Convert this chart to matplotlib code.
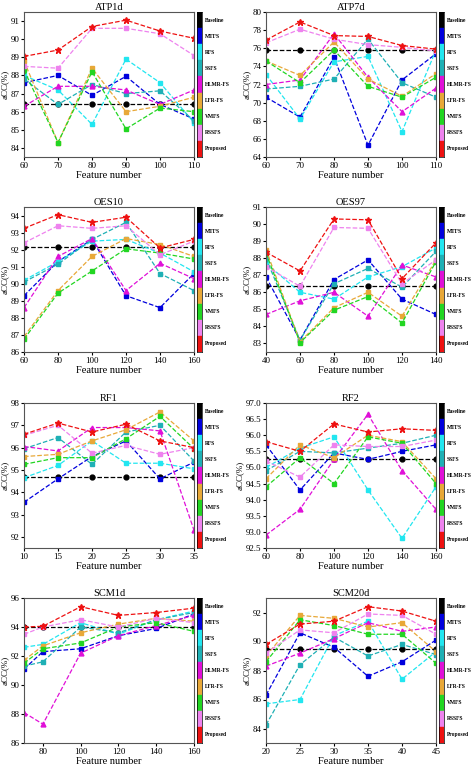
import numpy as np
import matplotlib
matplotlib.use('Agg')
import matplotlib.pyplot as plt

plt.rcParams['font.family'] = 'Liberation Serif'

methods = ['Baseline', 'MTFS', 'RFS', 'SSFS', 'HLMR-FS', 'LFR-FS', 'VMFS', 'RSSFS', 'Proposed']
colors = ['black', '#0000dd', '#22e6f0', '#1fb0b5', '#e010d8', '#e8a838', '#22d622', '#ee82ee', '#ee1111']
markers = ['o', 's', 's', 's', '^', 's', 's', 's', '*']

titles = ['ATP1d', 'ATP7d', 'OES10', 'OES97', 'RF1', 'RF2', 'SCM1d', 'SCM20d']

x_vals = {
    'ATP1d': [60, 70, 80, 90, 100, 110],
    'ATP7d': [60, 70, 80, 90, 100, 110],
    'OES10': [60, 80, 100, 120, 140, 160],
    'OES97': [40, 60, 80, 100, 120, 140],
    'RF1': [10, 15, 20, 25, 30, 35],
    'RF2': [60, 80, 100, 120, 140, 160],
    'SCM1d': [70, 80, 100, 120, 140, 160],
    'SCM20d': [20, 25, 30, 35, 40, 45],
}

acc_atp1d = [
    [86.45] * 6,
    [87.6, 88.0, 86.9, 87.95, 86.4, 85.6],
    [88.0, 87.2, 85.3, 88.9, 87.6, 85.4],
    [87.8, 86.4, 87.5, 87.0, 87.15, 85.5],
    [86.3, 87.4, 87.4, 87.2, 86.4, 87.2],
    [88.8, 84.3, 88.4, 86.0, 86.3, 86.8],
    [88.3, 84.3, 88.2, 85.05, 86.2, 86.0],
    [88.5, 88.4, 90.6, 90.6, 90.3, 89.1],
    [89.05, 89.4, 90.7, 91.05, 90.45, 90.05],
]
acc_atp7d = [
    [75.8] * 6,
    [70.6, 68.4, 75.0, 65.3, 72.5, 75.4],
    [73.1, 68.2, 74.5, 75.1, 66.8, 75.8],
    [71.5, 71.8, 72.6, 77.0, 72.2, 70.6],
    [72.0, 72.5, 77.6, 72.8, 69.0, 71.6],
    [74.6, 73.0, 76.7, 72.6, 70.7, 73.2],
    [74.6, 72.2, 75.8, 71.8, 70.6, 72.8],
    [76.6, 78.1, 77.0, 76.4, 76.1, 75.7],
    [76.9, 78.9, 77.4, 77.3, 76.3, 75.9],
]
acc_oes10 = [
    [92.15] * 6,
    [89.3, 91.3, 92.6, 89.3, 88.6, 90.6],
    [90.2, 91.3, 92.5, 92.6, 91.8, 90.7],
    [90.1, 91.15, 92.6, 93.6, 90.6, 89.6],
    [88.6, 91.6, 92.65, 89.6, 91.2, 90.3],
    [86.9, 89.6, 91.6, 92.65, 92.3, 91.6],
    [86.75, 89.45, 90.75, 92.05, 91.8, 91.45],
    [92.4, 93.4, 93.25, 93.4, 91.7, 92.5],
    [93.25, 94.05, 93.6, 93.9, 92.1, 92.6],
]
acc_oes97 = [
    [86.35] * 6,
    [86.9, 83.2, 86.75, 87.9, 85.6, 84.7],
    [87.7, 86.0, 85.6, 86.9, 87.5, 88.6],
    [88.0, 83.2, 86.5, 87.4, 86.3, 88.4],
    [84.7, 85.5, 86.0, 84.6, 87.6, 86.9],
    [88.5, 83.1, 85.1, 86.0, 84.6, 87.9],
    [88.3, 83.05, 84.95, 85.75, 84.2, 87.8],
    [87.5, 86.35, 89.8, 89.75, 86.5, 87.9],
    [88.35, 87.25, 90.3, 90.25, 86.8, 88.9],
]
acc_rf1 = [
    [94.7] * 6,
    [93.55, 94.6, 95.6, 96.3, 94.6, 95.35],
    [94.65, 95.2, 96.3, 95.3, 95.3, 95.05],
    [95.95, 96.45, 95.25, 96.7, 97.0, 95.4],
    [96.05, 95.85, 96.9, 96.9, 96.75, 92.3],
    [95.6, 95.7, 96.3, 96.8, 97.6, 96.3],
    [95.25, 95.55, 95.55, 96.4, 97.4, 95.95],
    [96.55, 97.0, 95.75, 96.1, 95.7, 96.0],
    [96.6, 97.1, 96.7, 97.05, 96.3, 96.0],
]
acc_rf2 = [
    [95.25] * 6,
    [95.7, 94.3, 95.45, 95.25, 95.5, 95.7],
    [95.0, 95.6, 95.95, 94.3, 92.8, 94.4],
    [94.9, 95.5, 95.45, 95.6, 95.75, 96.0],
    [92.9, 93.7, 95.25, 96.65, 94.9, 93.7],
    [94.65, 95.7, 95.3, 96.0, 95.8, 94.65],
    [94.4, 95.3, 94.5, 95.95, 95.75, 94.5],
    [95.2, 94.7, 95.7, 95.65, 95.65, 95.85],
    [95.8, 95.5, 96.35, 96.1, 96.2, 96.15],
]
acc_scm1d = [
    [94.0] * 6,
    [91.1, 92.3, 92.5, 93.4, 93.9, 94.9],
    [92.6, 92.8, 94.3, 93.5, 94.5, 95.1],
    [91.3, 91.6, 94.0, 93.6, 94.5, 95.0],
    [88.1, 87.3, 92.2, 93.4, 94.1, 94.8],
    [91.7, 92.7, 93.6, 94.2, 94.6, 94.4],
    [91.5, 92.5, 92.9, 94.0, 94.3, 93.7],
    [93.5, 94.0, 94.5, 94.0, 94.6, 94.3],
    [94.0, 94.05, 95.4, 94.8, 95.0, 95.3],
]
acc_scm20d = [
    [89.5] * 6,
    [86.3, 90.6, 89.6, 87.6, 88.6, 90.1],
    [85.7, 86.0, 90.4, 91.4, 87.4, 89.3],
    [84.25, 88.4, 90.3, 89.0, 89.8, 89.1],
    [88.3, 89.2, 90.2, 91.3, 90.7, 91.0],
    [89.0, 91.8, 91.6, 91.0, 91.3, 89.3],
    [88.6, 91.5, 91.1, 90.5, 90.5, 88.5],
    [89.2, 90.8, 90.6, 91.9, 91.8, 90.5],
    [89.8, 91.2, 91.4, 92.4, 92.1, 91.4],
]
acc = {'ATP1d': acc_atp1d, 'ATP7d': acc_atp7d, 'OES10': acc_oes10, 'OES97': acc_oes97,
       'RF1': acc_rf1, 'RF2': acc_rf2, 'SCM1d': acc_scm1d, 'SCM20d': acc_scm20d}

ylims = {'ATP1d': (83.5, 91.5), 'ATP7d': (64, 80), 'OES10': (86, 94.5), 'OES97': (82.5, 91),
         'RF1': (91.5, 98), 'RF2': (92.5, 97), 'SCM1d': (86, 96), 'SCM20d': (83, 93)}
yticks = {'ATP1d': np.arange(84, 92, 1), 'ATP7d': np.arange(64, 81, 2), 'OES10': np.arange(86, 95, 1),
          'OES97': np.arange(83, 92, 1), 'RF1': np.arange(92, 99, 1), 'RF2': np.arange(92.5, 97.1, 0.5),
          'SCM1d': np.arange(86, 97, 2), 'SCM20d': np.arange(84, 93, 2)}

W, H = 474, 769
fig = plt.figure(figsize=(W / 100, H / 100), dpi=100)

lefts = [24, 266]
tops = [12, 207, 403, 598]
aw, ah = 170, 145

for k, name in enumerate(titles):
    r, c = divmod(k, 2)
    l, t = lefts[c], tops[r]
    ax = fig.add_axes([l / W, 1 - (t + ah) / H, aw / W, ah / H])
    xs = x_vals[name]
    for i, m in enumerate(methods):
        ax.plot(xs, acc[name][i], '--', color=colors[i], marker=markers[i],
                markersize=3.5 if markers[i] != '*' else 4.5, linewidth=0.9)
    ax.set_xlim(xs[0], xs[-1])
    ax.set_ylim(*ylims[name])
    ax.set_yticks(yticks[name])
    if name == 'RF2':
        ax.set_yticklabels(['%.1f' % v for v in yticks[name]])
    if name == 'SCM1d':
        ax.set_xticks([80, 100, 120, 140, 160])
    else:
        ax.set_xticks(xs)
    ax.tick_params(labelsize=6.5, length=2, pad=1.5)
    ax.set_title(name, fontsize=7.5, pad=1)
    ax.set_xlabel('Feature number', fontsize=7.5, labelpad=1)
    ax.set_ylabel('aCC(%)', fontsize=6.5, labelpad=1)
    for s in ax.spines.values():
        s.set_color('#555555')

    # colour strip legend
    lg = fig.add_axes([(l + aw + 3) / W, 1 - (t + ah) / H, 5 / W, ah / H])
    n = len(methods)
    for i, m in enumerate(methods):
        lg.add_patch(plt.Rectangle((0, n - 1 - i), 1, 1, color=colors[i]))
        lg.text(1.5, n - 0.5 - i, m, fontsize=4, fontweight='bold', va='center', ha='left')
    lg.set_xlim(0, 1)
    lg.set_ylim(0, n)
    lg.set_xticks([])
    lg.set_yticks([])
    for s in lg.spines.values():
        s.set_linewidth(0.5)

fig.savefig('out.png', dpi=100)
